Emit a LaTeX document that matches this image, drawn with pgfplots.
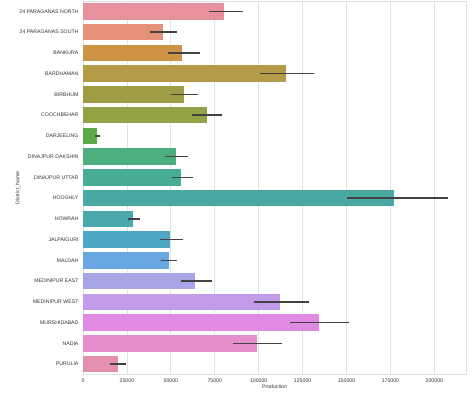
\documentclass[border=0pt]{standalone}
\usepackage{pgfplots}
\pgfplotsset{compat=1.18}
\usepackage{fontspec}
\setmainfont{Liberation Sans}
\definecolor{c1}{HTML}{E8919E}
\definecolor{c2}{HTML}{E69179}
\definecolor{c3}{HTML}{CD9446}
\definecolor{c4}{HTML}{B59A48}
\definecolor{c5}{HTML}{9E9C45}
\definecolor{c6}{HTML}{91A344}
\definecolor{c7}{HTML}{5AAB48}
\definecolor{c8}{HTML}{4DAE7F}
\definecolor{c9}{HTML}{48AB94}
\definecolor{c10}{HTML}{4AA8A2}
\definecolor{c11}{HTML}{4AA9AA}
\definecolor{c12}{HTML}{4DA6C4}
\definecolor{c13}{HTML}{67A8E2}
\definecolor{c14}{HTML}{A6A5E6}
\definecolor{c15}{HTML}{C29CE8}
\definecolor{c16}{HTML}{E08AE3}
\definecolor{c17}{HTML}{E68DCB}
\definecolor{c18}{HTML}{E58FB0}
\definecolor{errc}{HTML}{424242}
\definecolor{gridc}{HTML}{E2E2E2}
\begin{document}
\begin{tikzpicture}
\useasboundingbox (0,0) rectangle (474pt,392pt);
\begin{axis}[
  at={(83pt,17.5pt)}, anchor=south west,
  scale only axis, width=383pt, height=373.5pt,
  xbar, bar width=0.8,
  every axis plot/.append style={bar shift=0pt, draw=none,
    error bars/x dir=both, error bars/x explicit,
    error bars/error bar style={draw=errc, line width=1.6pt},
    error bars/error mark=none},
  xmin=0, xmax=218000,
  ymin=-0.5, ymax=17.5, y dir=reverse,
  ytick={0,...,17},
  yticklabels={24 PARAGANAS NORTH,24 PARAGANAS SOUTH,BANKURA,BARDHAMAN,BIRBHUM,COOCHBEHAR,DARJEELING,DINAJPUR DAKSHIN,DINAJPUR UTTAR,HOOGHLY,HOWRAH,JALPAIGURI,MALDAH,MEDINIPUR EAST,MEDINIPUR WEST,MURSHIDABAD,NADIA,PURULIA},
  xtick={0,25000,...,200000},
  scaled x ticks=false,
  xticklabel style={/pgf/number format/fixed, /pgf/number format/set thousands separator={}, /pgf/number format/assume math mode=true, yshift=-1pt},
  tick style={draw=none},
  major tick length=0pt,
  xmajorgrids, grid style={gridc, line width=0.8pt},
  axis line style={draw=gridc, line width=0.8pt},
  ticklabel style={font=\fontsize{5.2}{6}\selectfont, text=black!80},
  yticklabel style={xshift=-1pt},
  label style={font=\fontsize{5.2}{6}\selectfont, text=black!80},
  xlabel={Production},
  xlabel style={at={(axis description cs:0.5,0)}, anchor=center, yshift=-12.5pt},
  ylabel={District\_Name},
  ylabel style={at={(axis description cs:-0.17,0.5)}, anchor=center},
  clip=false,
]
\addplot[fill=c1] coordinates {(80500,0) += (10300,0) -= (8900,0)};
\addplot[fill=c2] coordinates {(45600,1) += (7900,0) -= (7400,0)};
\addplot[fill=c3] coordinates {(56600,2) += (9900,0) -= (8500,0)};
\addplot[fill=c4] coordinates {(115400,3) += (16100,0) -= (14600,0)};
\addplot[fill=c5] coordinates {(57500,4) += (8200,0) -= (7400,0)};
\addplot[fill=c6] coordinates {(70300,5) += (9100,0) -= (8400,0)};
\addplot[fill=c7] coordinates {(8000,6) += (1500,0) -= (1400,0)};
\addplot[fill=c8] coordinates {(53200,7) += (6300,0) -= (6500,0)};
\addplot[fill=c9] coordinates {(56000,8) += (6500,0) -= (5300,0)};
\addplot[fill=c10] coordinates {(176800,9) += (31100,0) -= (26800,0)};
\addplot[fill=c11] coordinates {(28500,10) += (4000,0) -= (2900,0)};
\addplot[fill=c12] coordinates {(49800,11) += (7200,0) -= (6100,0)};
\addplot[fill=c13] coordinates {(48800,12) += (4700,0) -= (4200,0)};
\addplot[fill=c14] coordinates {(63800,13) += (9700,0) -= (8300,0)};
\addplot[fill=c15] coordinates {(111900,14) += (16500,0) -= (14300,0)};
\addplot[fill=c16] coordinates {(134200,15) += (17300,0) -= (16500,0)};
\addplot[fill=c17] coordinates {(98800,16) += (14500,0) -= (13700,0)};
\addplot[fill=c18] coordinates {(19900,17) += (4600,0) -= (4700,0)};
\end{axis}
\end{tikzpicture}
\end{document}
